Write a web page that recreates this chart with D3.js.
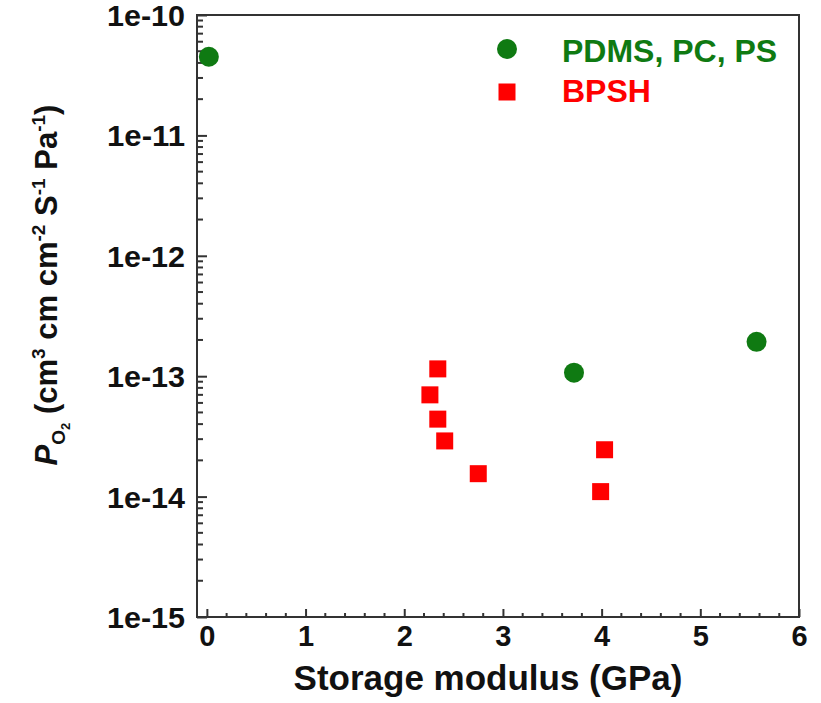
<!DOCTYPE html>
<html>
<head>
<meta charset="utf-8">
<script src="https://d3js.org/d3.v7.min.js"></script>
<style>
  body { margin: 0; background: #fff; }
  text { font-family: "Liberation Sans", Arial, sans-serif; font-weight: bold; }
</style>
</head>
<body>
<div id="chart"></div>
<script>
// data
var xTicks = [0, 1, 2, 3, 4, 5, 6];
var yTickLabels = ["1e-10", "1e-11", "1e-12", "1e-13", "1e-14", "1e-15"];
var yTicks = [1e-10, 1e-11, 1e-12, 1e-13, 1e-14, 1e-15];

var polyModulus = [0.02, 3.72, 5.57];
var polyPerm = [4.5e-11, 1.07e-13, 1.93e-13];

var bpshModulus = [2.34, 2.26, 2.34, 2.41, 2.75, 4.03, 3.99];
var bpshPerm = [1.15e-13, 7.0e-14, 4.4e-14, 2.9e-14, 1.55e-14, 2.45e-14, 1.1e-14];

var seriesNames = ["PDMS, PC, PS", "BPSH"];
var seriesColors = ["#0f7a12", "#ff0000"];

var svgWidth = 821;
var svgHeight = 703;

var margin = { top: 15, right: 22, bottom: 86, left: 197 };
var width = svgWidth - margin.left - margin.right;
var height = svgHeight - margin.top - margin.bottom;

var svg = d3.select("#chart")
  .append("svg")
  .attr("width", svgWidth)
  .attr("height", svgHeight);

var chartGroup = svg.append("g")
  .attr("transform", `translate(${margin.left}, ${margin.top})`);

// scales
var xScale = d3.scaleLinear()
  .domain([-0.1, 6])
  .range([0, width]);

var yScale = d3.scaleLog()
  .domain([1e-15, 1e-10])
  .range([height, 0]);

var axisColor = "#333";

// frame
chartGroup.append("rect")
  .attr("width", width)
  .attr("height", height)
  .attr("fill", "none")
  .attr("stroke", axisColor)
  .attr("stroke-width", 2);

// x axis: major ticks + minor every 0.2, pointing inward
var xMinor = d3.range(0, 6.001, 0.2).filter(v => Math.abs(v - Math.round(v)) > 0.01);
var bottomAxis = d3.axisBottom(xScale)
  .tickValues(xTicks)
  .tickSize(-8)
  .tickPadding(12)
  .tickFormat(d3.format("d"));

var xAxis = chartGroup.append("g")
  .attr("transform", `translate(0, ${height})`)
  .call(bottomAxis);
xAxis.select(".domain").remove();
xAxis.selectAll("line").attr("stroke", axisColor).attr("stroke-width", 2);
xAxis.selectAll("text")
  .attr("fill", "#111")
  .style("font-size", "29px")
  .attr("dy", "0.6em");

chartGroup.append("g")
  .selectAll("line")
  .data(xMinor)
  .enter()
  .append("line")
  .attr("x1", d => xScale(d))
  .attr("x2", d => xScale(d))
  .attr("y1", height)
  .attr("y2", height - 4)
  .attr("stroke", axisColor)
  .attr("stroke-width", 2);

// y axis: log ticks, minor at 2..9 per decade
var leftAxis = d3.axisLeft(yScale)
  .tickValues(yTicks)
  .tickSize(-10)
  .tickPadding(12)
  .tickFormat((d, i) => yTickLabels[i]);

var yAxis = chartGroup.append("g").call(leftAxis);
yAxis.select(".domain").remove();
yAxis.selectAll("line").attr("stroke", axisColor).attr("stroke-width", 2);
yAxis.selectAll("text")
  .attr("fill", "#111")
  .style("font-size", "29px")
  .attr("textLength", 78)
  .attr("lengthAdjust", "spacingAndGlyphs")
  .attr("dy", "0.36em");

var yMinor = [];
for (var e = -15; e < -10; e++) {
  for (var m = 2; m <= 9; m++) yMinor.push(m * Math.pow(10, e));
}
chartGroup.append("g")
  .selectAll("line")
  .data(yMinor)
  .enter()
  .append("line")
  .attr("x1", 0)
  .attr("x2", 6)
  .attr("y1", d => yScale(d))
  .attr("y2", d => yScale(d))
  .attr("stroke", axisColor)
  .attr("stroke-width", 2);

// points
chartGroup.selectAll(".poly")
  .data(polyModulus)
  .enter()
  .append("circle")
  .attr("class", "poly")
  .attr("cx", (d, i) => xScale(d))
  .attr("cy", (d, i) => yScale(polyPerm[i]))
  .attr("r", 10)
  .attr("fill", seriesColors[0]);

var sq = 17;
chartGroup.selectAll(".bpsh")
  .data(bpshModulus)
  .enter()
  .append("rect")
  .attr("class", "bpsh")
  .attr("x", (d, i) => xScale(d) - sq / 2)
  .attr("y", (d, i) => yScale(bpshPerm[i]) - sq / 2)
  .attr("width", sq)
  .attr("height", sq)
  .attr("fill", seriesColors[1]);

// legend
var legend = svg.append("g").attr("transform", "translate(507, 49)");
legend.append("circle")
  .attr("cx", 0).attr("cy", 0).attr("r", 10)
  .attr("fill", seriesColors[0]);
legend.append("rect")
  .attr("x", -sq / 2).attr("y", 43 - sq / 2)
  .attr("width", sq).attr("height", sq)
  .attr("fill", seriesColors[1]);
legend.selectAll(".legtext")
  .data(seriesNames)
  .enter()
  .append("text")
  .attr("class", "legtext")
  .attr("x", 55)
  .attr("y", (d, i) => 13 + i * 40)
  .attr("fill", (d, i) => seriesColors[i])
  .style("font-size", "32px")
  .text(d => d);

// axis labels
svg.append("text")
  .attr("x", 488)
  .attr("y", 690)
  .attr("text-anchor", "middle")
  .attr("fill", "#111")
  .style("font-size", "35px")
  .text("Storage modulus (GPa)");

var yLabel = svg.append("text")
  .attr("transform", "translate(57, 285) rotate(-90)")
  .attr("text-anchor", "middle")
  .attr("fill", "#111")
  .style("font-size", "31px");
yLabel.append("tspan").style("font-style", "italic").text("P");
yLabel.append("tspan").attr("dy", 8).style("font-size", "19px").text("O");
yLabel.append("tspan").attr("dy", 5).style("font-size", "13px").text("2");
yLabel.append("tspan").attr("dy", -13).text(" (cm");
yLabel.append("tspan").attr("dy", -12).style("font-size", "19px").text("3");
yLabel.append("tspan").attr("dy", 12).text(" cm cm");
yLabel.append("tspan").attr("dy", -12).style("font-size", "19px").text("-2");
yLabel.append("tspan").attr("dy", 12).text(" S");
yLabel.append("tspan").attr("dy", -12).style("font-size", "19px").text("-1");
yLabel.append("tspan").attr("dy", 12).text(" Pa");
yLabel.append("tspan").attr("dy", -12).style("font-size", "19px").text("-1");
yLabel.append("tspan").attr("dy", 12).text(")");
</script>
</body>
</html>
